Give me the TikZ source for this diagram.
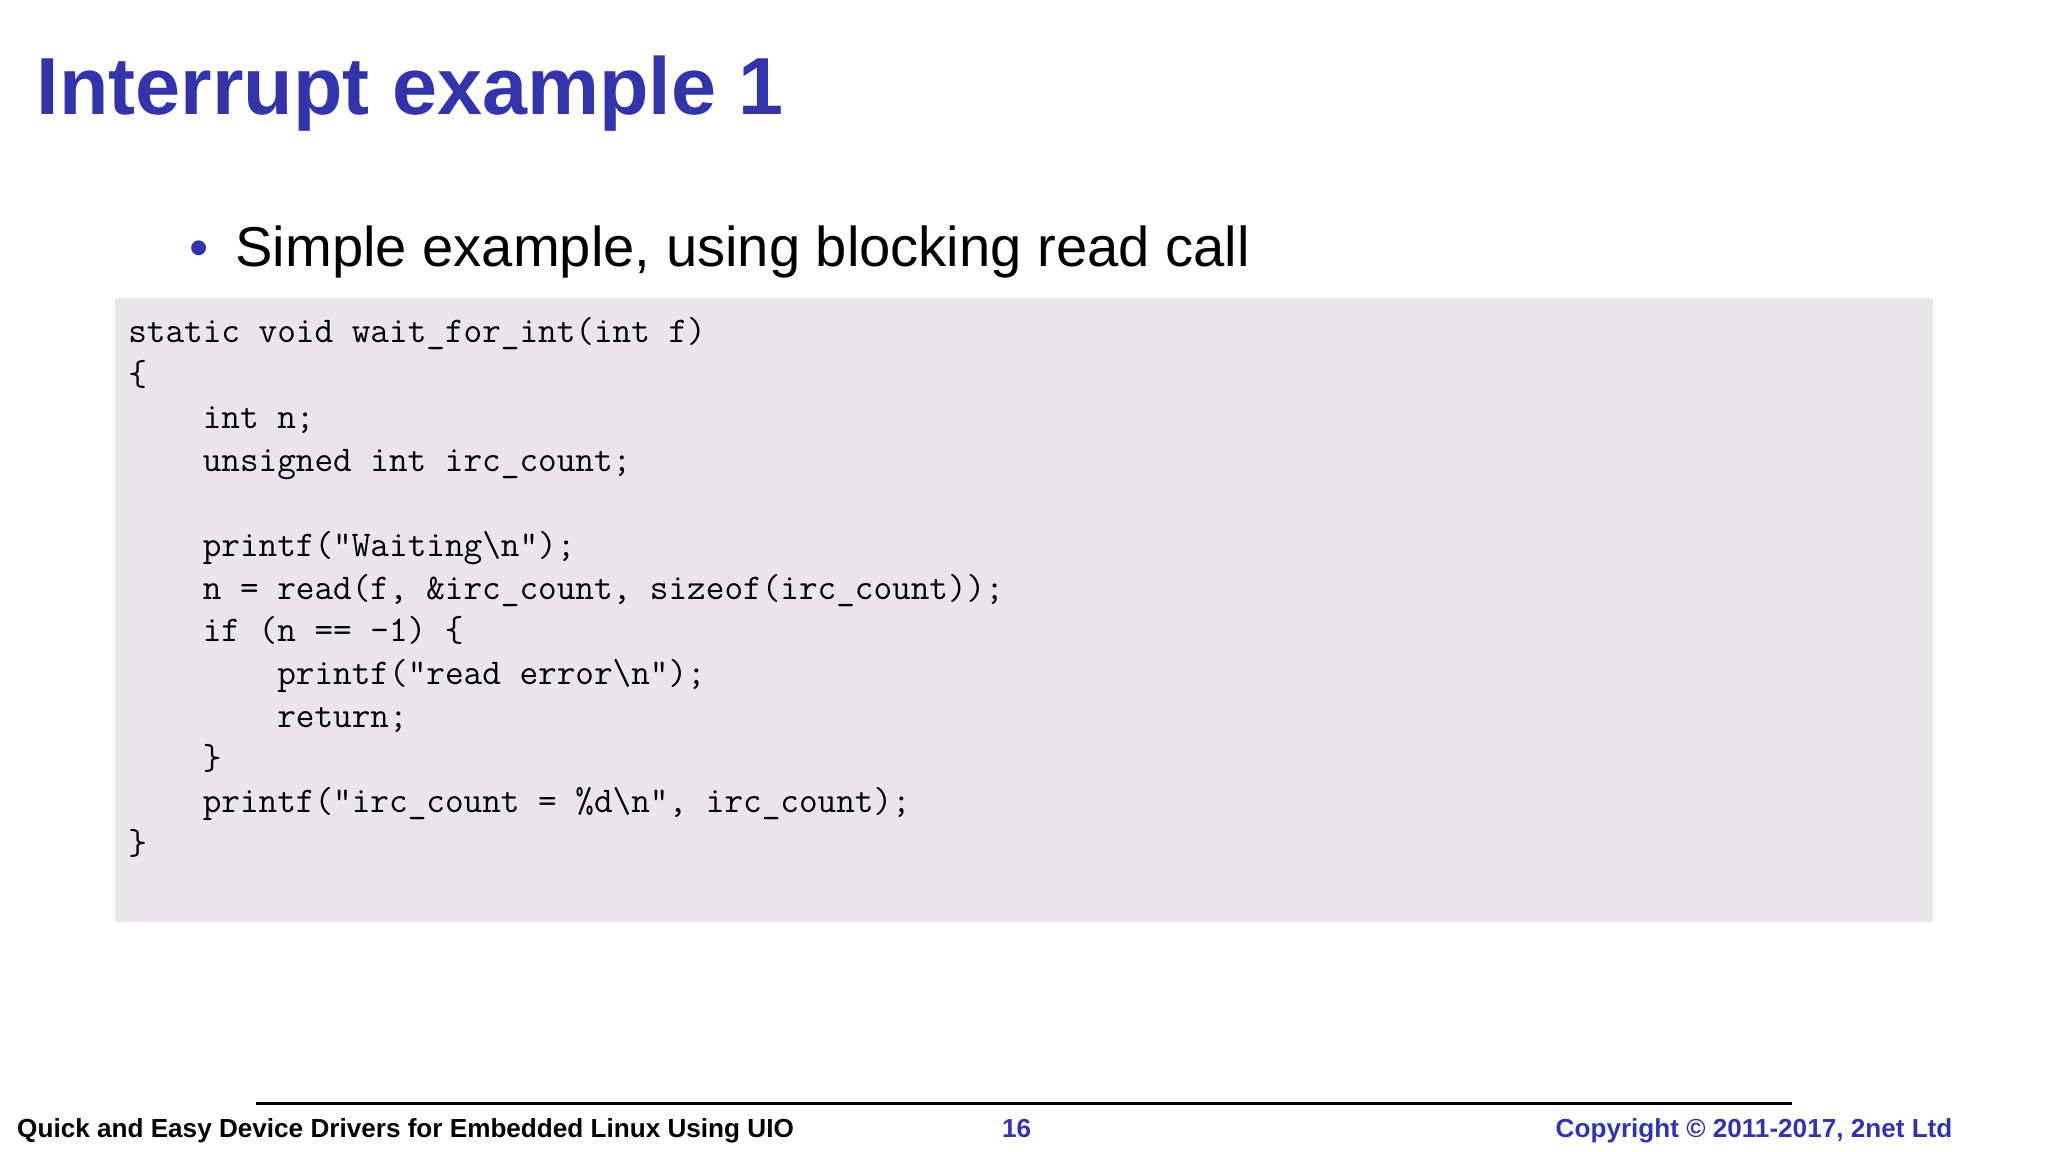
\documentclass[tikz,border=0pt]{standalone}
\usepackage{fontspec}
\setmainfont{Liberation Sans}
\definecolor{titleblue}{RGB}{52,52,170}
\definecolor{codebg}{RGB}{232,230,233}
\tikzset{
  codeline/.style={anchor=base west,inner sep=0pt,font=\fontsize{27.7}{30}\fontspec{Latin Modern Mono}},
  foot/.style={anchor=base west,inner sep=0pt,font=\fontsize{20}{24}\selectfont\bfseries}
}
\begin{document}
\begin{tikzpicture}[x=1pt,y=-1pt]
\useasboundingbox[fill=white] (0,0) rectangle (1568,882);
\node[anchor=base west,inner sep=0pt,text=titleblue,font=\fontsize{62}{70}\selectfont\bfseries] (title) at (28,88) {Interrupt example 1};
\node[anchor=base west,inner sep=0pt,text=titleblue,font=\fontsize{42}{50}\selectfont] (bul) at (145,204) {\textbullet};
\node[anchor=base west,inner sep=0pt,font=\fontsize{43}{50}\selectfont] (sub) at (180,204) {Simple example, using blocking read call};
\fill[codebg] (88,228) rectangle (1480,706);
\node[codeline] (l1) at (98,262) {static void wait\_for\_int(int f)};
\node[codeline] (l2) at (98,295) {\{};
\node[codeline] (l3) at (98,328) {\ \ \ \ int n;};
\node[codeline] (l4) at (98,361) {\ \ \ \ unsigned int irc\_count;};
\node[codeline] (l5) at (98,426) {\ \ \ \ printf("Waiting\textbackslash n");};
\node[codeline] (l6) at (98,459) {\ \ \ \ n = read(f, \&irc\_count, sizeof(irc\_count));};
\node[codeline] (l7) at (98,491) {\ \ \ \ if (n == -1) \{};
\node[codeline] (l8) at (98,524) {\ \ \ \ \ \ \ \ printf("read error\textbackslash n");};
\node[codeline] (l9) at (98,557) {\ \ \ \ \ \ \ \ return;};
\node[codeline] (l10) at (98,589) {\ \ \ \ \}};
\node[codeline] (l11) at (98,622) {\ \ \ \ printf("irc\_count = \%d\textbackslash n", irc\_count);};
\node[codeline] (l12) at (98,654) {\}};
\draw[line width=2.5pt] (196,845) -- (1372,845);
\node[foot] (f1) at (13,871) {Quick and Easy Device Drivers for Embedded Linux Using UIO};
\node[foot,text=titleblue] (f2) at (767,871) {16};
\node[foot,text=titleblue,anchor=base east] (f3) at (1495,871) {Copyright © 2011-2017, 2net Ltd};
\end{tikzpicture}
\end{document}
